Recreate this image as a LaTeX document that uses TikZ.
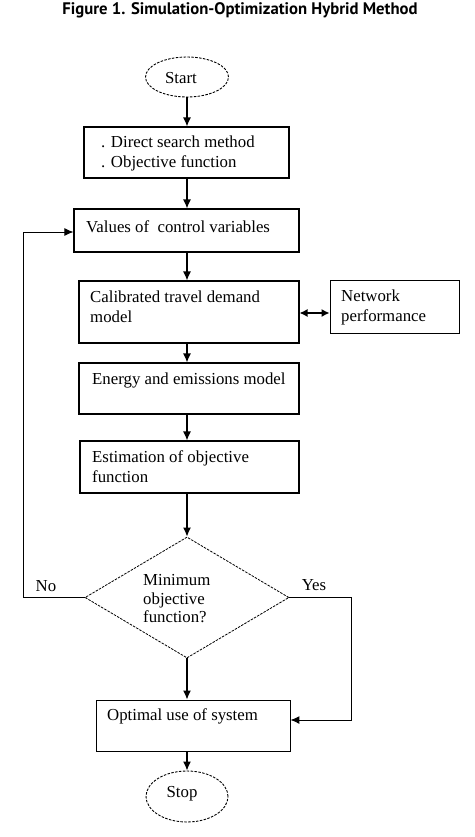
\documentclass[tikz,border=0pt]{standalone}
\usepackage{fontspec}
\setmainfont{Liberation Serif}
\newfontfamily\titlefont{PT Sans}
\usetikzlibrary{shapes.geometric,arrows.meta}
\begin{document}
\begin{tikzpicture}[x=1pt,y=1pt,
  box/.style={draw, line width=1.1pt, rectangle, inner sep=0pt},
  oval/.style={draw, line width=0.9pt, ellipse, inner sep=0pt, dash pattern=on 2.5pt off 1.4pt},
  decision/.style={draw, line width=0.8pt, diamond, inner sep=0pt, dash pattern=on 2.5pt off 1.2pt},
  txt/.style={anchor=west, align=left, inner sep=0pt, font=\fontsize{16.8}{20}\selectfont},
  lbl/.style={inner sep=0pt, font=\fontsize{16.8}{20}\selectfont},
  arr/.style={line width=1.3pt, -{Latex[length=9pt,width=8pt]}},
  dbl/.style={line width=1.3pt, {Latex[length=8pt,width=8pt]}-{Latex[length=8pt,width=8pt]}},
  line/.style={line width=0.9pt}]
\useasboundingbox (0,0) rectangle (474,-837);

\node[inner sep=0pt] (title) at (240,-10) {\titlefont\bfseries\fontsize{16.7}{18}\selectfont Figure 1. Simulation-Optimization Hybrid Method};

% shapes
\node[oval, minimum width=83pt, minimum height=40pt] (start) at (187,-77) {};
\node[box, minimum width=205pt, minimum height=51pt] (b1) at (186.5,-152.5) {};
\node[box, minimum width=225pt, minimum height=43pt] (b2) at (186.5,-230.5) {};
\node[box, minimum width=220pt, minimum height=62pt] (b3) at (189,-312) {};
\node[box, line width=0.9pt, minimum width=129pt, minimum height=53pt] (net) at (394.5,-306.5) {};
\node[box, minimum width=220pt, minimum height=51pt] (b4) at (189,-388.5) {};
\node[box, minimum width=219pt, minimum height=52pt] (b5) at (189.5,-467) {};
\node[decision, minimum width=204pt, minimum height=121pt] (dia) at (187,-597.5) {};
\node[box, line width=0.9pt, minimum width=194pt, minimum height=51pt] (b6) at (193,-725.5) {};
\node[oval, minimum width=82pt, minimum height=51pt] (stop) at (187,-796.5) {};

% texts
\node[lbl] (tstart) at (181,-78) {Start};
\node[txt] (t1) at (101,-153) {. Direct search method\\. Objective function};
\node[txt] (t2) at (86,-227) {Values of\ \ control variables};
\node[txt] (t3) at (90,-307) {Calibrated travel demand\\model};
\node[txt] (tn) at (341,-307) {Network\\performance};
\node[txt] (t4) at (92,-380) {Energy and emissions model};
\node[txt] (t5) at (92,-467) {Estimation of objective\\function};
\node[txt, font=\fontsize{16.8}{18.5}\selectfont] (td) at (143,-599) {Minimum\\objective\\function?};
\node[txt] (t6) at (107,-716) {Optimal use of system};
\node[lbl] (tstop) at (182,-794) {Stop};
\node[lbl] (tno) at (46,-586) {No};
\node[lbl] (tyes) at (314,-585) {Yes};

% connectors
\coordinate (cno) at (23,-597.5);
\coordinate (cyes) at (351,-597.5);
\draw[arr] (start.south) -- (b1.north -| start.south);
\draw[arr] (b1.south -| start.south) -- (b2.north -| start.south);
\draw[arr] (b2.south -| start.south) -- (b3.north -| start.south);
\draw[dbl] (b3.east |- 0,-313) -- (net.west |- 0,-313);
\draw[arr] (b3.south -| start.south) -- (b4.north -| start.south);
\draw[arr] (b4.south -| start.south) -- (b5.north -| start.south);
\draw[arr] (b5.south -| start.south) -- (dia.north);
\draw[arr, line width=1pt] (dia.west) -- (cno) |- ([yshift=-1.5pt]b2.west);
\draw[arr, line width=1pt] (dia.east) -- (cyes) |- ([yshift=5.5pt]b6.east);
\draw[arr] (dia.south) -- (b6.north -| dia.south);
\draw[arr] (b6.south -| stop.north) -- (stop.north);
\end{tikzpicture}
\end{document}
